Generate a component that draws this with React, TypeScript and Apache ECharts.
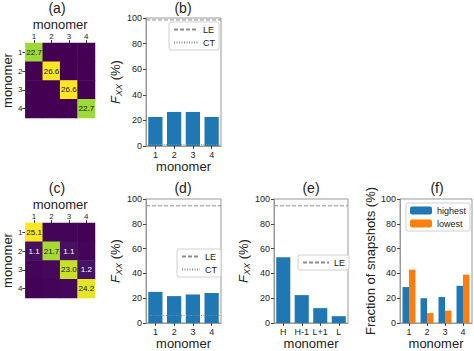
import React, { useEffect, useRef } from 'react';
import * as echarts from 'echarts';

const monomers = ['1', '2', '3', '4'];
const orbitals = ['H', 'H-1', 'L+1', 'L'];
const heatA = [
  [22.7, 0, 0, 0],
  [0, 26.6, 0, 0],
  [0, 0, 26.6, 0],
  [0, 0, 0, 22.7],
];
const heatC = [
  [25.1, 0.3, 0.2, 0.1],
  [1.1, 21.7, 1.1, 0.2],
  [0.2, 0.5, 23.0, 1.2],
  [0.1, 0.2, 0.4, 24.2],
];
const fxxB = [22.7, 26.6, 26.6, 22.7];
const fxxD = [25.1, 21.7, 23.0, 24.2];
const fxxE = [53, 22.5, 12, 5.5];
const highest = [29, 20, 21, 30];
const lowest = [43, 8, 10, 39];
const leB = 98.5;
const ctB = 1.2;
const leD = 94.5;
const ctD = 6;
const leE = 94.5;

const viridis = ['#440154', '#482878', '#3e4989', '#31688e', '#26828e', '#1f9e89', '#35b779', '#6ece58', '#b5de2b', '#fde725'];
const FONT = 'Liberation Sans, Arial, sans-serif';
const TXT = '#222';
const FRAME = '#999';
const BLUE = '#1f77b4';
const ORANGE = '#ff7f0e';
const GRAYLINE = '#8c8c8c';

function heatData(m: number[][]) {
  const max = Math.max(...m.flat());
  const out: any[] = [];
  m.forEach((row, r) =>
    row.forEach((v, c) => {
      out.push({ value: [c, r, v], label: { color: v > max * 0.5 ? '#111' : '#fff' } });
    })
  );
  return out;
}

function heatAxes(grid: number) {
  const x = {
    type: 'category', gridIndex: grid, data: monomers, position: 'top',
    name: 'monomer', nameLocation: 'middle', nameGap: 12,
    nameTextStyle: { fontSize: 13, color: TXT, fontFamily: FONT },
    axisLine: { show: false }, axisTick: { show: true, alignWithLabel: true, length: 3, lineStyle: { color: '#333' } },
    axisLabel: { fontSize: 8, color: TXT, margin: 3, fontFamily: FONT }, splitLine: { show: false },
  };
  const y = {
    type: 'category', gridIndex: grid, data: monomers, inverse: true,
    name: 'monomer', nameLocation: 'middle', nameGap: 11,
    nameTextStyle: { fontSize: 13, color: TXT, fontFamily: FONT },
    axisLine: { show: false }, axisTick: { show: true, alignWithLabel: true, length: 3, lineStyle: { color: '#333' } },
    axisLabel: { fontSize: 8, color: TXT, margin: 3, fontFamily: FONT }, splitLine: { show: false },
  };
  return { x, y };
}

function barX(grid: number, cats: string[], gap: number) {
  return {
    type: 'category', gridIndex: grid, data: cats,
    name: 'monomer', nameLocation: 'middle', nameGap: gap,
    nameTextStyle: { fontSize: 13, color: TXT, fontFamily: FONT },
    axisLine: { show: true, lineStyle: { color: FRAME } },
    axisTick: { show: true, alignWithLabel: true, length: 3, lineStyle: { color: '#444' } },
    axisLabel: { fontSize: 9, color: TXT, margin: 4, fontFamily: FONT, interval: 0 },
  };
}

function hiddenX(grid: number) {
  return { type: 'value', gridIndex: grid, min: 0, max: 1, show: false };
}

const fxxName = '{i|F}{s|XX} (%)';
function barY(grid: number, name: string, rich: boolean, gap: number) {
  return {
    type: 'value', gridIndex: grid, min: 0, max: 100, interval: 20,
    name, nameLocation: 'middle', nameGap: gap,
    nameTextStyle: rich
      ? {
          fontSize: 13, color: TXT, fontFamily: FONT,
          rich: {
            i: { fontSize: 13, fontStyle: 'italic', color: TXT, fontFamily: FONT },
            s: { fontSize: 9, fontStyle: 'italic', color: TXT, fontFamily: FONT, verticalAlign: 'bottom', padding: [6, 0, 0, 0] },
          },
        }
      : { fontSize: 13, color: TXT, fontFamily: FONT },
    axisLine: { show: true, lineStyle: { color: FRAME } },
    axisTick: { show: true, length: 3, lineStyle: { color: '#444' } },
    axisLabel: { fontSize: 9, color: TXT, margin: 4, fontFamily: FONT },
    splitLine: { show: false },
  };
}

function refLine(name: string, value: number, xIdx: number, yIdx: number, dash: any) {
  return {
    type: 'line', name, xAxisIndex: xIdx, yAxisIndex: yIdx, symbol: 'none', silent: true,
    data: [[0, value], [1, value]],
    lineStyle: { color: GRAYLINE, width: 1, type: dash },
    itemStyle: { color: GRAYLINE },
  };
}

function legendBox(left: number, top: number, data: string[], itemWidth: number, itemHeight: number, hideSymbol: boolean) {
  const l: any = {
    orient: 'vertical', left, top, data, itemWidth, itemHeight, itemGap: 4,
    padding: [3, 4, 3, 4], borderColor: '#d0d0d0', borderWidth: 1, borderRadius: 2,
    backgroundColor: '#fff', selectedMode: false,
    textStyle: { fontSize: 9, color: TXT, fontFamily: FONT },
  };
  if (hideSymbol) l.itemStyle = { opacity: 0, borderWidth: 0 };
  return l;
}

function titleText(text: string, x: number, y: number) {
  return { type: 'text', x, y, style: { text, fontSize: 14, fill: TXT, fontFamily: FONT, align: 'center', verticalAlign: 'middle', textAlign: 'center', textVerticalAlign: 'middle' } };
}

export default function App() {
  const ref = useRef<HTMLDivElement>(null);
  useEffect(() => {
    if (!ref.current) return;
    const chart = echarts.init(ref.current, undefined, { renderer: 'svg' });
    const ha = heatAxes(0);
    const hc = heatAxes(2);
    const gridStyle = { show: true, borderColor: FRAME, borderWidth: 1, backgroundColor: 'transparent' };
    const option: any = {
      animation: false,
      textStyle: { fontFamily: FONT },
      grid: [
        { left: 20, top: 43, width: 75, height: 75 },
        { left: 146, top: 18, width: 75, height: 128, ...gridStyle },
        { left: 20, top: 223, width: 75, height: 75 },
        { left: 146, top: 199, width: 75, height: 128, ...gridStyle },
        { left: 274, top: 199, width: 74, height: 128, ...gridStyle },
        { left: 400, top: 199, width: 72, height: 128, ...gridStyle },
      ],
      xAxis: [
        ha.x,
        barX(1, monomers, 12),
        hiddenX(1),
        hc.x,
        barX(3, monomers, 14),
        hiddenX(3),
        barX(4, orbitals, 14),
        hiddenX(4),
        barX(5, monomers, 14),
      ],
      yAxis: [
        ha.y,
        barY(1, fxxName, true, 20),
        hc.y,
        barY(3, fxxName, true, 20),
        barY(4, fxxName, true, 20),
        barY(5, 'Fraction of snapshots (%)', false, 21),
      ],
      visualMap: [
        { show: false, seriesIndex: 0, min: 0, max: Math.max(...heatA.flat()), dimension: 2, inRange: { color: viridis } },
        { show: false, seriesIndex: 1, min: 0, max: Math.max(...heatC.flat()), dimension: 2, inRange: { color: viridis } },
      ],
      legend: [
        legendBox(169, 22, ['LE', 'CT'], 24, 8, true),
        legendBox(177, 249, ['LE', 'CT'], 18, 8, true),
        legendBox(298, 255, ['LE'], 26, 8, true),
        legendBox(406, 203, ['highest', 'lowest'], 22, 8, false),
      ],
      series: [
        {
          type: 'heatmap', xAxisIndex: 0, yAxisIndex: 0, data: heatData(heatA),
          label: { show: true, fontSize: 8, fontFamily: FONT, formatter: (p: any) => (p.value[2] >= 1 ? p.value[2].toFixed(1) : '') },
        },
        {
          type: 'heatmap', xAxisIndex: 3, yAxisIndex: 2, data: heatData(heatC),
          label: { show: true, fontSize: 8, fontFamily: FONT, formatter: (p: any) => (p.value[2] >= 1 ? p.value[2].toFixed(1) : '') },
        },
        { type: 'bar', name: 'fb', xAxisIndex: 1, yAxisIndex: 1, data: fxxB, barWidth: '76%', itemStyle: { color: BLUE } },
        refLine('LE', leB, 2, 1, [4, 2]),
        refLine('CT', ctB, 2, 1, [1, 1.5]),
        { type: 'bar', name: 'fd', xAxisIndex: 4, yAxisIndex: 3, data: fxxD, barWidth: '76%', itemStyle: { color: BLUE } },
        refLine('LE', leD, 5, 3, [4, 2]),
        refLine('CT', ctD, 5, 3, [1, 1.5]),
        { type: 'bar', name: 'fe', xAxisIndex: 6, yAxisIndex: 4, data: fxxE, barWidth: '76%', itemStyle: { color: BLUE } },
        refLine('LE', leE, 7, 4, [4, 2]),
        { type: 'bar', name: 'highest', xAxisIndex: 8, yAxisIndex: 5, data: highest, barWidth: '36%', barGap: '0%', itemStyle: { color: BLUE } },
        { type: 'bar', name: 'lowest', xAxisIndex: 8, yAxisIndex: 5, data: lowest, barWidth: '36%', barGap: '0%', itemStyle: { color: ORANGE } },
      ],
      graphic: [
        titleText('(a)', 57, 8),
        titleText('(b)', 183, 8),
        titleText('(c)', 57, 188),
        titleText('(d)', 183, 188),
        titleText('(e)', 311, 188),
        titleText('(f)', 437, 188),
      ],
    };
    chart.setOption(option);
    return () => chart.dispose();
  }, []);
  return <div ref={ref} style={{ position: 'absolute', left: 0, top: 0, width: 474, height: 351, background: '#fff' }} />;
}
